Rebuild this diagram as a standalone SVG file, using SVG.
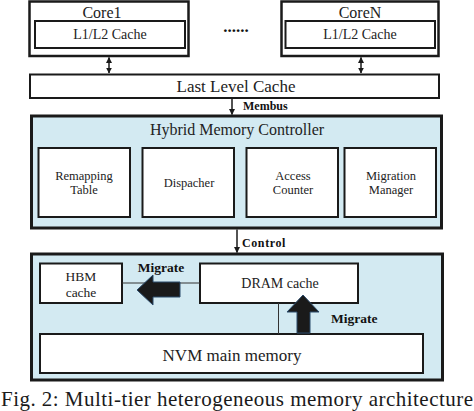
<svg xmlns="http://www.w3.org/2000/svg" width="474" height="411" viewBox="0 0 474 411">
<defs>
<style>
.box{fill:#fff;stroke:#1a1a1a;stroke-width:2}
.core{fill:#fff;stroke:#1a1a1a;stroke-width:2.5}
.cont{fill:#d3eaf2;stroke:#1a1a1a;stroke-width:3}
.t{font-family:"Liberation Serif","Times New Roman",serif;fill:#222;text-anchor:middle}
.b{font-family:"Liberation Serif","Times New Roman",serif;fill:#111;font-weight:bold}
.ln{stroke:#1a1a1a;stroke-width:1.5;fill:none}
.thin{stroke:#333;stroke-width:1;fill:none}
</style>
<marker id="ah" viewBox="0 0 10 10" refX="9" refY="5" markerWidth="6" markerHeight="6" orient="auto-start-reverse" markerUnits="userSpaceOnUse">
<path d="M0,0 L10,5 L0,10 z" fill="#1a1a1a"/>
</marker>
</defs>
<rect width="474" height="411" fill="#fff"/>
<g id="core1">
<rect class="core" x="29.5" y="1.5" width="159" height="54.5"/>
<text class="t" x="102" y="18" font-size="16">Core1</text>
<rect class="box" x="35" y="21" width="150" height="27"/>
<text class="t" x="110" y="39" font-size="14">L1/L2 Cache</text>
</g>
<text id="dots" class="b" x="236" y="32" font-size="17" text-anchor="middle">......</text>
<g id="coreN">
<rect class="core" x="281.5" y="1.5" width="157" height="54.5"/>
<text class="t" x="360" y="18" font-size="16">CoreN</text>
<rect class="box" x="285.5" y="21" width="149.5" height="27"/>
<text class="t" x="360" y="39" font-size="14">L1/L2 Cache</text>
</g>
<g id="llc">
<rect class="box" x="30" y="74.5" width="409" height="23.5"/>
<text class="t" x="236" y="92" font-size="17">Last Level Cache</text>
</g>
<g id="hmc">
<rect class="cont" x="31.5" y="116" width="410" height="112"/>
<text class="t" x="237" y="135" font-size="16">Hybrid Memory Controller</text>
<g id="remap">
<rect class="box" x="38.5" y="148" width="91.5" height="69"/>
<text class="t" x="84" y="180" font-size="12.5">Remapping</text>
<text class="t" x="84" y="194" font-size="12.5">Table</text>
</g>
<g id="disp">
<rect class="box" x="142.5" y="148" width="91.5" height="69"/>
<text class="t" x="189" y="187" font-size="12.5">Dispacher</text>
</g>
<g id="acc">
<rect class="box" x="246.5" y="148" width="91.5" height="69"/>
<text class="t" x="293" y="180" font-size="12.5">Access</text>
<text class="t" x="293" y="194" font-size="12.5">Counter</text>
</g>
<g id="mig">
<rect class="box" x="344.5" y="148" width="91.5" height="69"/>
<text class="t" x="391" y="180" font-size="12.5">Migration</text>
<text class="t" x="391" y="194" font-size="12.5">Manager</text>
</g>
</g>
<g id="mem">
<rect class="cont" x="31.5" y="254" width="411" height="126"/>
<g id="hbm">
<rect class="box" x="40" y="263.5" width="82" height="39.5"/>
<text class="t" x="81" y="281" font-size="13.5">HBM</text>
<text class="t" x="81" y="297" font-size="13.5">cache</text>
</g>
<g id="dram">
<rect class="box" x="200" y="263.5" width="158" height="39.5"/>
<text class="t" x="280" y="288" font-size="14">DRAM cache</text>
</g>
<g id="nvm">
<rect class="box" x="40" y="334" width="383" height="39"/>
<text class="t" x="232" y="361" font-size="17">NVM main memory</text>
</g>
</g>
<g id="connectors">
<line class="ln" x1="109" y1="57.5" x2="109" y2="73" marker-start="url(#ah)" marker-end="url(#ah)"/>
<line class="ln" x1="361" y1="57.5" x2="361" y2="73" marker-start="url(#ah)" marker-end="url(#ah)"/>
<line class="ln" x1="232" y1="98" x2="232" y2="114.5" marker-end="url(#ah)"/>
<line class="ln" x1="237" y1="229.5" x2="237" y2="252.5" marker-end="url(#ah)"/>
<line class="thin" x1="122" y1="283" x2="200" y2="283"/>
<line class="thin" x1="278.5" y1="303" x2="278.5" y2="334"/>
<path d="M137,290 L153,275 L153,282 L180,282 L180,297 L153,297 L153,305 Z" fill="#1a1a1a" stroke="#2a4a6a" stroke-width="1"/>
<path d="M303,295 L319,312 L310,312 L310,333 L297,333 L297,312 L287,312 Z" fill="#1a1a1a" stroke="#2a4a6a" stroke-width="1"/>
<text class="b" x="243" y="110" font-size="12">Membus</text>
<text class="b" x="242" y="247" font-size="12" letter-spacing="0.6">Control</text>
<text class="b" x="161" y="272" font-size="13.5" text-anchor="middle">Migrate</text>
<text class="b" x="331" y="323" font-size="13.5">Migrate</text>
</g>
<text id="caption" x="1" y="406" font-family="'Liberation Serif','Times New Roman',serif" font-size="21" fill="#1a1a1a" textLength="472" lengthAdjust="spacing">Fig. 2: Multi-tier heterogeneous memory architecture</text>
</svg>
